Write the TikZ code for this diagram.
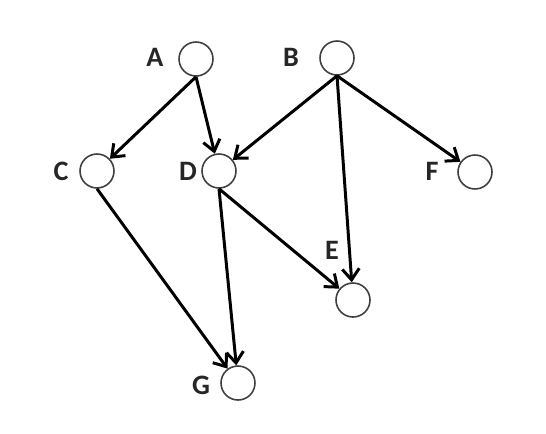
\documentclass[tikz,border=0pt]{standalone}
\usepackage{fontspec}
\setmainfont{Carlito}
\usetikzlibrary{arrows.meta}
\begin{document}
\begin{tikzpicture}[x=0.02cm, y=-0.02cm, >={Straight Barb[length=2.2mm,width=3.4mm]}]

		\def \nodesize {0.68} %in cm
		\tikzset{var/.style={draw, circle, line width=0.9pt, draw=black!75, minimum width = \nodesize cm, inner sep=0pt},
			lbl/.style={font=\fontsize{16}{19}\bfseries\selectfont, text=black!85, inner sep=0pt},
			edge/.style={->, line width=1.7pt}}

		\useasboundingbox (0,0) rectangle (546,433);

		\node (A) at (196,59) [var]{};
		\node (B) at (337,58) [var]{};
		\node (C) at (97,171) [var]{};
		\node (D) at (219,171) [var]{};
		\node (F) at (475,172) [var]{};
		\node (E) at (353,300) [var]{};
		\node (G) at (238,383) [var]{};

		\node (LA) at (155,57) [lbl]{A};
		\node (LB) at (291,57) [lbl]{B};
		\node (LC) at (61,171) [lbl]{C};
		\node (LD) at (188,171) [lbl]{D};
		\node (LF) at (432,171) [lbl]{F};
		\node (LE) at (332,250) [lbl]{E};
		\node (LG) at (201,385) [lbl]{G};

		\draw[edge] (A.south) -- (C);
		\draw[edge] (A.south) -- (D);
		\draw[edge] (B.south) -- (D);
		\draw[edge] (B.south) -- (E);
		\draw[edge] (B.south) -- (F);
		\draw[edge] (C.south) -- (G);
		\draw[edge] (D.south) -- (G);
		\draw[edge] (D.south) -- (E);

\end{tikzpicture}
\end{document}
